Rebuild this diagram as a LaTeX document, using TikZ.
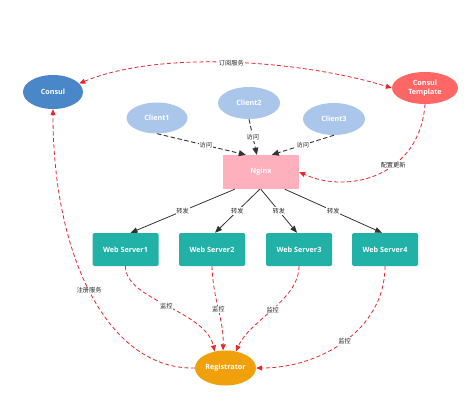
\documentclass[tikz,border=0pt]{standalone}
\usepackage{fontspec}
\setmainfont{Open Sans}
\newfontfamily\cjk{Noto Sans CJK SC}
\usetikzlibrary{shapes.geometric,arrows.meta,calc}
\definecolor{consulblue}{HTML}{4A87C8}
\definecolor{ctred}{HTML}{FF6666}
\definecolor{clientblue}{HTML}{AAC6EB}
\definecolor{nginxpink}{HTML}{FFB0BD}
\definecolor{wsteal}{HTML}{21B1A6}
\definecolor{regorange}{HTML}{F0A00A}
\definecolor{linered}{HTML}{E8262E}
\definecolor{linegray}{HTML}{333333}
\tikzset{
  ell/.style={ellipse, inner sep=0pt, text=white, font=\bfseries\fontsize{7.2}{8.5}\selectfont, align=center},
  wsbox/.style={rectangle, rounded corners=1.5pt, fill=wsteal, minimum width=66pt, minimum height=33pt, inner sep=0pt, text=white, font=\bfseries\fontsize{7.2}{8.5}\selectfont},
  reddash/.style={draw=linered, line width=0.8pt, dash pattern=on 4pt off 2.5pt, -{Triangle[length=6pt,width=5pt]}},
  blackdash/.style={draw=linegray, line width=0.9pt, dash pattern=on 4.5pt off 2.5pt, -{Triangle[length=7pt,width=6pt]}},
  solidarr/.style={draw=linegray, line width=0.8pt, -{Triangle[length=7pt,width=5.5pt]}},
  lbl/.style={fill=white, inner sep=0.8pt, font=\cjk\fontsize{6.2}{7}\selectfont, text=black!85}
}
\begin{document}
\begin{tikzpicture}[x=1pt,y=-1pt]
\useasboundingbox (0,0) rectangle (474,401);
% nodes
\node[ell, fill=consulblue, minimum width=60pt, minimum height=34pt] (consul) at (53,92) {Consul};
\node[ell, fill=ctred, minimum width=66pt, minimum height=32pt] (ct) at (425,88) {Consul\\Template};
\node[ell, fill=clientblue, minimum width=61pt, minimum height=31pt] (c1) at (157,118) {Client1};
\node[ell, fill=clientblue, minimum width=62pt, minimum height=32pt] (c2) at (249,103) {Client2};
\node[ell, fill=clientblue, minimum width=62pt, minimum height=32pt] (c3) at (334,119) {Client3};
\node[rectangle, fill=nginxpink, minimum width=76pt, minimum height=34pt, inner sep=0pt, text=white, font=\bfseries\fontsize{7.2}{8.5}\selectfont] (nginx) at (261,172) {Nginx};
\node[wsbox] (ws1) at (125.5,249.5) {Web Server1};
\node[wsbox] (ws2) at (212,249.5) {Web Server2};
\node[wsbox] (ws3) at (299,249.5) {Web Server3};
\node[wsbox] (ws4) at (385,249.5) {Web Server4};
\node[ell, fill=regorange, minimum width=61pt, minimum height=35pt] (reg) at (225.5,368) {Registrator};
% subscribe
\draw[reddash, {Triangle[length=6pt,width=5pt]}-{Triangle[length=6pt,width=5pt]}] (consul.18) .. controls (160,50) and (300,60) .. (ct.west) node[lbl, pos=0.5] {订阅服务};
% clients to nginx
\draw[blackdash] (c1.south) -- ([xshift=23pt]nginx.north west) node[lbl, pos=0.55] {访问};
\draw[blackdash] (c2.south) -- ([xshift=34pt]nginx.north west) node[lbl, midway] {访问};
\draw[blackdash] (c3.south) -- ([xshift=49pt]nginx.north west) node[lbl, midway] {访问};
% config update
\draw[reddash] (ct.south) .. controls (420,175) and (350,195) .. (nginx.east) node[lbl, pos=0.4] {配置更新};
% forwarding
\draw[solidarr] ([xshift=12pt]nginx.south west) -- ([xshift=5pt]ws1.north) node[lbl, midway] {转发};
\draw[solidarr] ([xshift=37pt]nginx.south west) -- ([xshift=3pt]ws2.north) node[lbl, midway] {转发};
\draw[solidarr] ([xshift=38pt]nginx.south west) -- ([xshift=-2pt]ws3.north) node[lbl, midway] {转发};
\draw[solidarr] ([xshift=62pt]nginx.south west) -- ([xshift=-3pt]ws4.north) node[lbl, midway] {转发};
% monitoring
\draw[reddash] (ws1.south) .. controls (125,300) and (205,310) .. (reg.123) node[lbl, pos=0.5] {监控};
\draw[reddash] (ws2.south) .. controls (213,300) and (224,320) .. (reg.98) node[lbl, pos=0.5] {监控};
\draw[reddash] (ws3.south) .. controls (299,300) and (250,320) .. (reg.58) node[lbl, pos=0.5] {监控};
\draw[reddash] (ws4.south) .. controls (385,330) and (320,368) .. (reg.east) node[lbl, pos=0.5] {监控};
% register
\draw[reddash] (reg.west) .. controls (110,370) and (53,260) .. (consul.south) node[lbl, pos=0.52] {注册服务};
\end{tikzpicture}
\end{document}
